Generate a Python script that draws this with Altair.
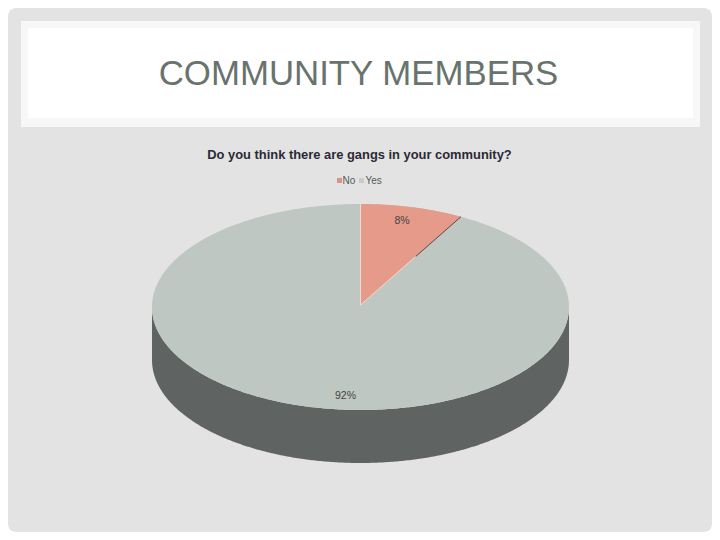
import numpy as np
import pandas as pd
import altair as alt

# values
answers = ["No", "Yes"]
shares = [8, 92]
slide_title = "COMMUNITY MEMBERS"
chart_title = "Do you think there are gangs in your community?"

# layout of the tilted pie, in page pixels
W, H = 704, 524
OFF = 8
CX, CY, RX, RY, DEPTH = 360.5, 307, 208.5, 103, 53
PINK, GREY, DARK = "#e59a8a", "#bfc7c2", "#5f6361"

xs = alt.Scale(domain=[OFF, OFF + W], range=[0, W], nice=False, zero=False)
ys = alt.Scale(domain=[OFF + H, OFF], range=[H, 0], nice=False, zero=False)
X = lambda f: alt.X(f, type="quantitative", scale=xs, axis=None)
Y = lambda f: alt.Y(f, type="quantitative", scale=ys, axis=None, stack=None)

t = np.linspace(0, np.pi, 361)
ex = CX - RX * np.cos(t)
half = RY * np.sin(t)
ellipse = pd.DataFrame({"x": ex, "y": CY - half, "y2": CY + half, "answer": answers[1]})
side = pd.DataFrame({"x": ex, "y": CY + half, "y2": CY + half + DEPTH})

end = 2 * np.pi * shares[0] / sum(shares)
a = np.linspace(0, end, 60)
wx = CX + RX * np.sin(a)
wy = CY - RY * np.cos(a)
ax, ay = CX, CY - 2
ex_, ey_ = wx[-1], wy[-1]
wedge = pd.DataFrame({
    "x": wx, "y": wy,
    "y2": ay + (ey_ - ay) * (wx - ax) / (ex_ - ax),
    "answer": answers[0],
})

one = alt.Chart(pd.DataFrame({"k": [0]}))

def box(x0, y0, x1, y1, color, **kw):
    return one.mark_rect(color=color, **kw).encode(
        x=alt.value(x0 - OFF), x2=alt.value(x1 - OFF),
        y=alt.value(y0 - OFF), y2=alt.value(y1 - OFF))

def label(txt, x, y, **kw):
    return one.mark_text(**kw).encode(
        x=alt.value(x - OFF), y=alt.value(y - OFF), text=alt.value(txt))

def seg(x0, y0, x1, y1, color):
    d = pd.DataFrame({"x": [x0, x1], "y": [y0, y1]})
    return alt.Chart(d).mark_line(color=color, strokeWidth=1).encode(x=X("x"), y=Y("y"))

color = alt.Color("answer:N", scale=alt.Scale(domain=answers, range=[PINK, GREY]), legend=None)
legend_font = dict(font="Liberation Sans", fontSize=10, color="#555a58", align="left", baseline="middle")

layers = [
    box(8, 8, 712, 532, "#e3e3e3", cornerRadius=8),
    box(21, 21, 700, 127, "#f7f7f7"),
    box(28, 28, 693, 118, "#ffffff"),
    label(slide_title, 358.5, 75, font="Liberation Sans", fontSize=34.8, color="#69736e", align="center", baseline="middle"),
    label(chart_title, 359.5, 155, font="Liberation Sans", fontSize=12.9, fontWeight="bold", color="#2a2a35", align="center", baseline="middle"),
    box(337, 178, 342, 183, "#d4968a"),
    label(answers[0], 342.5, 180.5, **legend_font),
    box(359, 178, 364, 183, "#c8cbc8"),
    label(answers[1], 365.5, 180.5, **legend_font),
    alt.Chart(side).mark_area(color=DARK, orient="vertical").encode(x=X("x"), y=Y("y"), y2="y2:Q"),
    alt.Chart(ellipse).mark_area(orient="vertical").encode(x=X("x"), y=Y("y"), y2="y2:Q", color=color),
    alt.Chart(wedge).mark_area(orient="vertical").encode(x=X("x"), y=Y("y"), y2="y2:Q", color=color),
    seg(CX, ay, CX, CY - RY, "#f3d9d0"),
    seg(ax, ay, ax + (ex_ - ax) * 0.55, ay + (ey_ - ay) * 0.55, "#f3d9d0"),
    seg(ax + (ex_ - ax) * 0.55, ay + (ey_ - ay) * 0.55, ex_, ey_, "#5a4a45"),
    label(f"{shares[0]}%", 402, 221, font="Liberation Sans", fontSize=10.5, color="#444444", align="center", baseline="middle"),
    label(f"{shares[1]}%", 345.5, 395.5, font="Liberation Sans", fontSize=10.5, color="#444444", align="center", baseline="middle"),
]

chart = alt.layer(*layers).properties(
    width=W, height=H, padding=0, autosize=alt.AutoSizeParams(type="none"),
    background="white",
).configure_view(stroke=None)

chart.save("out.html", embed_options={"renderer": "svg", "actions": False})
